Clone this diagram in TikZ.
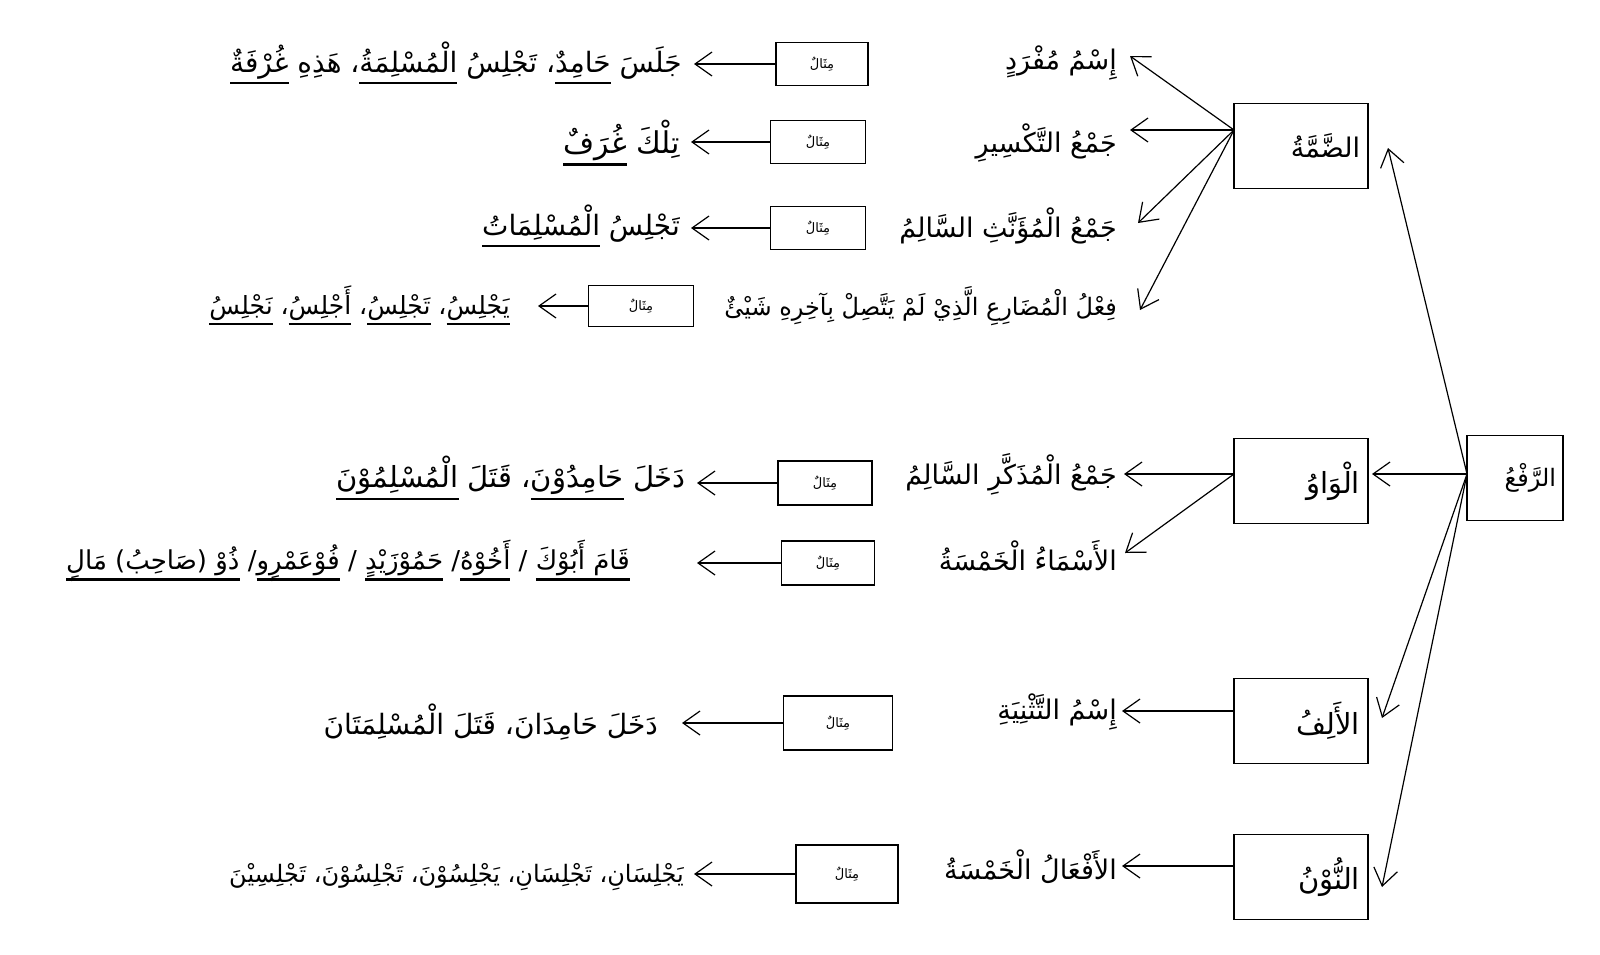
\documentclass[tikz,border=0pt]{standalone}
\usepackage{fontspec}
\usetikzlibrary{arrows.meta}
\newfontfamily\arabicfont[Script=Arabic]{DejaVu Sans}
\TeXXeTstate=1
\newcommand{\AR}[1]{\beginR #1\endR}
\newcommand{\fsz}[1]{\fontsize{#1}{#1}\selectfont}
\newcommand{\ulw}[1]{\setbox0\hbox{\beginR #1\endR}\leavevmode\hbox{\rlap{\vrule height -0.34em depth 0.42em width \wd0}\box0}}
\tikzset{
  mainbox/.style={draw, line width=1.3pt, minimum width=134pt, minimum height=85pt,
    text width=118pt, align=right, inner sep=0pt, font=\arabicfont\fsz{29}},
  exbox/.style={draw, line width=1.1pt, inner sep=0pt, font=\arabicfont\fsz{13}},
  lbl/.style={anchor=east, inner sep=0pt, font=\arabicfont\fsz{27}},
  extxt/.style={anchor=east, inner sep=0pt, font=\arabicfont\fsz{27}},
  arr/.style={line width=1.2pt, -{Straight Barb[length=17pt,width=24pt]}},
}
\begin{document}
\begin{tikzpicture}[x=1pt,y=-1pt]
\useasboundingbox (0,0) rectangle (1600,954);
% main boxes
\node[mainbox, minimum width=96pt, text width=82pt, font=\arabicfont\fsz{24}] (raf) at (1515,478) {\AR{الرَّفْعُ}};
\node[mainbox, font=\arabicfont\fsz{27}] (damma) at (1301,146) {\AR{الضَّمَّةُ}};
\node[mainbox] (waw) at (1301,481) {\AR{الْوَاوُ}};
\node[mainbox] (alif) at (1301,721) {\AR{الأَلِفُ}};
\node[mainbox] (nun) at (1301,877) {\AR{النُّوْنُ}};
% labels
\node[lbl] (l1) at (1117,63) {\AR{إِسْمُ مُفْرَدٍ}};
\node[lbl] (l2) at (1117,143) {\AR{جَمْعُ التَّكْسِيرِ}};
\node[lbl] (l3) at (1117,226) {\AR{جَمْعُ الْمُؤَنَّثِ السَّالِمُ}};
\node[lbl, font=\arabicfont\fsz{24}] (l4) at (1117,306) {\AR{فِعْلُ الْمُضَارِعِ الَّذِيْ لَمْ يَتَّصِلْ بِآخِرِهِ شَيْئٌ}};
\node[lbl] (l5) at (1117,474) {\AR{جَمْعُ الْمُذَكَّرِ السَّالِمُ}};
\node[lbl] (l6) at (1117,556) {\AR{الأَسْمَاءُ الْخَمْسَةُ}};
\node[lbl] (l7) at (1117,712) {\AR{إِسْمُ التَّثْنِيَةِ}};
\node[lbl] (l8) at (1117,867) {\AR{الأَفْعَالُ الْخَمْسَةُ}};
% example boxes
\node[exbox, minimum width=92pt, minimum height=43pt] (m1) at (822,64) {\AR{مِثَالٌ}};
\node[exbox, minimum width=95pt, minimum height=43pt] (m2) at (818,142) {\AR{مِثَالٌ}};
\node[exbox, minimum width=95pt, minimum height=43pt] (m3) at (818,228) {\AR{مِثَالٌ}};
\node[exbox, minimum width=105pt, minimum height=41pt] (m4) at (641,306) {\AR{مِثَالٌ}};
\node[exbox, minimum width=94pt, minimum height=44pt] (m5) at (825,483) {\AR{مِثَالٌ}};
\node[exbox, minimum width=93pt, minimum height=44pt] (m6) at (828,563) {\AR{مِثَالٌ}};
\node[exbox, minimum width=109pt, minimum height=54pt] (m7) at (838,723) {\AR{مِثَالٌ}};
\node[exbox, minimum width=102pt, minimum height=58pt] (m8) at (847,874) {\AR{مِثَالٌ}};
% example texts
\node[extxt, font=\arabicfont\fsz{28}] (e1) at (682,63) {\AR{جَلَسَ \ulw{حَامِدٌ}، تَجْلِسُ \ulw{الْمُسْلِمَةُ}، هَذِهِ \ulw{غُرْفَةٌ}}};
\node[extxt, font=\arabicfont\fsz{30}] (e2) at (680,143) {\AR{تِلْكَ \ulw{غُرَفٌ}}};
\node[extxt, font=\arabicfont\fsz{28}] (e3) at (680,226) {\AR{تَجْلِسُ \ulw{الْمُسْلِمَاتُ}}};
\node[extxt, font=\arabicfont\fsz{25}] (e4) at (510,305) {\AR{\ulw{يَجْلِسُ}، \ulw{تَجْلِسُ}، \ulw{أَجْلِسُ}، \ulw{نَجْلِسُ}}};
\node[extxt, font=\arabicfont\fsz{29}] (e5) at (686,478) {\AR{دَخَلَ \ulw{حَامِدُوْنَ}، قَتَلَ \ulw{الْمُسْلِمُوْنَ}}};
\node[extxt, font=\arabicfont\fsz{26}] (e6) at (630,561) {\AR{\ulw{قَامَ أَبُوْكَ} / \ulw{أَخُوْهُ}/ \ulw{حَمُوْزَيْدٍ} / \ulw{فُوْعَمْرٍو}/ \ulw{ذُوْ (صَاحِبُ) مَالٍ}}};
\node[extxt, font=\arabicfont\fsz{28}] (e7) at (658,722) {\AR{دَخَلَ حَامِدَانَ، قَتَلَ الْمُسْلِمَتَانَ}};
\node[extxt, font=\arabicfont\fsz{24}] (e8) at (684,877) {\AR{يَجْلِسَانِ، تَجْلِسَانِ، يَجْلِسُوْنَ، تَجْلِسُوْنَ، تَجْلِسِيْنَ}};
% connector end points
\coordinate (rO) at (1467,474);
\coordinate (tD) at (1388,148);
\coordinate (tW) at (1372,474);
\coordinate (tA) at (1382,718);
\coordinate (tN) at (1382,887);
\coordinate (dO) at (1234,130);
\coordinate (t1) at (1130,56);
\coordinate (t2) at (1130,130);
\coordinate (t3) at (1138,223);
\coordinate (t4) at (1140,310);
\coordinate (wO) at (1234,474);
\coordinate (t5) at (1124,474);
\coordinate (t6) at (1125,553);
\coordinate (aO) at (1234,711);
\coordinate (t7) at (1122,711);
\coordinate (nO) at (1234,866);
\coordinate (t8) at (1122,866);
\coordinate (u1) at (694,64);
\coordinate (u2) at (691,142);
\coordinate (u3) at (691,228);
\coordinate (u4) at (538,306);
\coordinate (u5) at (697,483);
\coordinate (u6) at (697,563);
\coordinate (u7) at (682,723);
\coordinate (u8) at (694,874);
% connectors
\draw[arr] (rO) -- (tD);
\draw[arr] (rO) -- (tW);
\draw[arr] (rO) -- (tA);
\draw[arr] (rO) -- (tN);
\draw[arr] (dO) -- (t1);
\draw[arr] (dO) -- (t2);
\draw[arr] (dO) -- (t3);
\draw[arr] (dO) -- (t4);
\draw[arr] (wO) -- (t5);
\draw[arr] (wO) -- (t6);
\draw[arr] (aO) -- (t7);
\draw[arr] (nO) -- (t8);
\draw[arr] (m1.west) -- (u1);
\draw[arr] (m2.west) -- (u2);
\draw[arr] (m3.west) -- (u3);
\draw[arr] (m4.west) -- (u4);
\draw[arr] (m5.west) -- (u5);
\draw[arr] (m6.west) -- (u6);
\draw[arr] (m7.west) -- (u7);
\draw[arr] (m8.west) -- (u8);
\end{tikzpicture}
\end{document}
